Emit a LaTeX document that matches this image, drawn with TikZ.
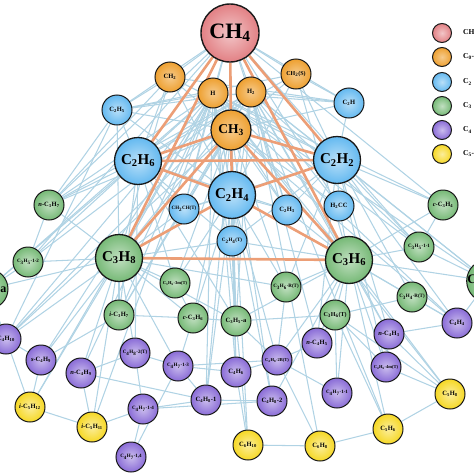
\documentclass[tikz,border=0pt]{standalone}
\usepackage{fontspec}
\setmainfont{Liberation Serif}
\usetikzlibrary{backgrounds}
\definecolor{chfour}{RGB}{226,128,132}
\definecolor{cone}{RGB}{238,160,48}
\definecolor{ctwo}{RGB}{100,185,240}
\definecolor{cthree}{RGB}{118,185,118}
\definecolor{cfour}{RGB}{138,108,215}
\definecolor{cfive}{RGB}{246,216,36}
\definecolor{fluxblue}{RGB}{176,211,228}
\definecolor{fluxorange}{RGB}{236,158,118}
\newcommand{\dn}[1]{\textsubscript{#1}}
\tikzset{
  sp/.style={circle,draw=black!90,line width=1pt,inner sep=0pt,minimum size=30pt,
    font=\bfseries\fontsize{6.5}{6.5}\selectfont},
  lng/.style={sp,font=\bfseries\fontsize{5}{5}\selectfont},
  mid/.style={sp,minimum size=40pt,line width=1.2pt,font=\bfseries\fontsize{13.5}{13.5}\selectfont},
  big/.style={sp,minimum size=47pt,line width=1.3pt,font=\bfseries\fontsize{15}{15}\selectfont},
  grp0/.style={inner color=chfour!45!white,outer color=chfour},
  grp1/.style={inner color=cone!55!white,outer color=cone},
  grp2/.style={inner color=ctwo!45!white,outer color=ctwo},
  grp3/.style={inner color=cthree!45!white,outer color=cthree},
  grp4/.style={inner color=cfour!45!white,outer color=cfour},
  grp5/.style={inner color=cfive!45!white,outer color=cfive},
  flux/.style={draw=fluxblue,line width=1.05pt},
  mainflux/.style={draw=fluxorange,line width=2.6pt},
  legdot/.style={circle,draw=black!90,line width=1pt,minimum size=19pt,inner sep=0pt},
  legtext/.style={anchor=west,inner sep=0pt,font=\bfseries\fontsize{7.5}{7.5}\selectfont}
}
\begin{document}
\begin{tikzpicture}[x=1pt,y=1pt,yscale=-1]
\useasboundingbox (0,0) rectangle (474,474);

%Species: CH4, C0-C1
\node[sp,grp0,minimum size=58pt,line width=1.4pt,font=\bfseries\fontsize{22}{22}\selectfont] (ch4) at (230,33) {CH\dn4};
\node[sp,grp1] (ch2) at (170,77) {CH\dn2};
\node[sp,grp1] (h) at (213,93) {H};
\node[sp,grp1] (h2) at (251,92) {H\dn2};
\node[lng,grp1,font=\bfseries\fontsize{6}{6}\selectfont] (ch2s) at (296,74) {CH\dn2(S)};
\node[mid,grp1] (ch3) at (231,130) {CH\dn3};

%Species: C2
\node[sp,grp2] (c2h5) at (117,110) {C\dn2H\dn5};
\node[sp,grp2] (c2h) at (349,103) {C\dn2H};
\node[big,grp2] (c2h6) at (138,161) {C\dn2H\dn6};
\node[big,grp2] (c2h2) at (337,160) {C\dn2H\dn2};
\node[big,grp2] (c2h4) at (232,195) {C\dn2H\dn4};
\node[lng,grp2] (ch2chT) at (184,209) {CH\dn2CH(T)};
\node[sp,grp2] (c2h3) at (287,210) {C\dn2H\dn3};
\node[sp,grp2] (h2cc) at (339,206) {H\dn2CC};
\node[lng,grp2] (c2h4T) at (232,241) {C\dn2H\dn4(T)};

%Species: C3
\node[sp,grp3] (nc3h7) at (49,205) {\textit{n}-C\dn3H\dn7};
\node[big,grp3] (c3h8) at (119,258) {C\dn3H\dn8};
\node[big,grp3] (c3h6) at (349,260) {C\dn3H\dn6};
\node[lng,grp3] (c3h512) at (28,262) {C\dn3H\dn5-1-2};
\node[sp,grp3,minimum size=40pt,font=\bfseries\fontsize{12}{12}\selectfont] (c3h4a) at (-12,289) {C\dn3H\dn4-a};
\node[sp,grp3,minimum size=42pt,font=\bfseries\fontsize{13}{13}\selectfont] (c3h4p) at (488,281) {C\dn3H\dn4-p};
\node[sp,grp3] (cc3h4) at (443,205) {\textit{c}-C\dn3H\dn4};
\node[lng,grp3] (c3h511) at (419,247) {C\dn3H\dn5-1-1};
\node[lng,grp3] (c3h6RT) at (286,287) {C\dn3H\dn6-R(T)};
\node[lng,grp3] (c3h4RT) at (412,297) {C\dn3H\dn4-R(T)};
\node[lng,grp3,font=\bfseries\fontsize{4.5}{4.5}\selectfont] (c3h63mT) at (175,283) {C\dn3H\dn6-3m(T)};
\node[sp,grp3] (cc3h6) at (193,318) {\textit{c}-C\dn3H\dn6};
\node[sp,grp3] (c3h5a) at (236,321) {C\dn3H\dn5-a};
\node[sp,grp3] (ic3h7) at (119,315) {\textit{i}-C\dn3H\dn7};
\node[lng,grp3,font=\bfseries\fontsize{6}{6}\selectfont] (c3h6T) at (335,315) {C\dn3H\dn6(T)};

%Species: C4
\node[sp,grp4] (c4h10) at (6,339) {C\dn4H\dn{10}};
\node[sp,grp4] (sc4h9) at (41,360) {\textit{s}-C\dn4H\dn9};
\node[sp,grp4] (nc4h9) at (81,373) {\textit{n}-C\dn4H\dn9};
\node[lng,grp4] (c4h82T) at (135,353) {C\dn4H\dn8-2(T)};
\node[lng,grp4] (c4h713) at (178,366) {C\dn4H\dn7-1-3};
\node[sp,grp4] (c4h81) at (206,400) {C\dn4H\dn8-1};
\node[lng,grp4] (c4h714) at (143,409) {C\dn4H\dn7-1-4};
\node[lng,grp4] (c4h7b) at (131,457) {C\dn4H\dn7-1,4};
\node[sp,grp4] (c4h6) at (236,372) {C\dn4H\dn6};
\node[lng,grp4,font=\bfseries\fontsize{4.5}{4.5}\selectfont] (c4h82BT) at (277,360) {C\dn4H\dn8-2B(T)};
\node[sp,grp4] (nc4h5) at (317,343) {\textit{n}-C\dn4H\dn5};
\node[sp,grp4] (c4h82) at (272,401) {C\dn4H\dn8-2};
\node[lng,grp4] (c4h711) at (337,393) {C\dn4H\dn7-1-1};
\node[sp,grp4] (nc4h3) at (389,334) {\textit{n}-C\dn4H\dn3};
\node[lng,grp4,font=\bfseries\fontsize{4.5}{4.5}\selectfont] (c4h64mT) at (386,367) {C\dn4H\dn6-4m(T)};
\node[sp,grp4] (c4h4) at (457,323) {C\dn4H\dn4};

%Species: C5-C6
\node[sp,grp5] (ic5h12) at (30,407) {\textit{i}-C\dn5H\dn{12}};
\node[sp,grp5] (ic5h11) at (92,427) {\textit{i}-C\dn5H\dn{11}};
\node[sp,grp5] (c6h10) at (248,445) {C\dn6H\dn{10}};
\node[sp,grp5] (c6h8) at (320,446) {C\dn6H\dn8};
\node[sp,grp5] (c5h6) at (388,429) {C\dn5H\dn6};
\node[sp,grp5] (c5h8) at (450,394) {C\dn5H\dn8};

%Legend
\node[legdot,grp0] (leg0) at (442,33) {};
\node[legdot,grp1] (leg1) at (442,57) {};
\node[legdot,grp2] (leg2) at (442,82) {};
\node[legdot,grp3] (leg3) at (442,106) {};
\node[legdot,grp4] (leg4) at (442,130) {};
\node[legdot,grp5] (leg5) at (442,154) {};
\node[legtext] (legt0) at (463,33) {CH\dn4};
\node[legtext] (legt1) at (463,57) {C\dn0-C\dn1};
\node[legtext] (legt2) at (463,82) {C\dn2};
\node[legtext] (legt3) at (463,106) {C\dn3};
\node[legtext] (legt4) at (463,130) {C\dn4};
\node[legtext] (legt5) at (463,154) {C\dn5-C\dn6};

%Flux lines
\begin{scope}[on background layer]
\foreach \a/\b in {ch4/ch2,ch4/h,ch4/h2,ch4/ch2s,ch4/c2h5,ch4/c2h,ch4/nc3h7,ch4/c2h4,
  ch4/c3h511,ch4/cc3h4,ch4/c3h512,ch4/c2h3,ch4/h2cc,ch4/ch2chT,
  h/c2h5,h/c2h6,h/c2h2,h/c2h,h/c2h4,h/c3h8,h/c3h6,h/nc3h7,h/ic3h7,h/c3h5a,h/cc3h4,
  h/c3h511,h/c4h10,h/sc4h9,h/nc4h9,h/c4h81,h/c4h82,h/c4h6,h/ic5h12,h/ic5h11,h/c5h8,
  h/c4h4,h/c3h4a,h/c3h4p,h/c2h3,h/ch2chT,h/c2h4T,
  h2/c2h5,h2/c2h6,h2/c2h2,h2/c2h,h2/c2h3,h2/c3h8,h2/c3h6,h2/h2cc,h2/nc3h7,h2/ic3h7,
  h2/c3h5a,h2/c3h512,h2/c3h511,h2/c4h10,h2/nc4h5,h2/nc4h3,h2/c5h6,h2/c6h8,h2/c3h4p,
  h2/c2h4,h2/ch2chT,h2/c2h4T,
  ch3/c2h5,ch3/c2h,ch3/ch2,ch3/ch2s,ch3/c2h3,ch3/h2cc,ch3/ch2chT,ch3/c2h4T,ch3/nc3h7,
  ch3/ic3h7,ch3/c3h5a,ch3/c3h63mT,ch3/c3h6RT,ch3/c4h10,ch3/c4h81,ch3/c4h6,ch3/c4h4,
  ch3/c6h10,ch3/cc3h6,ch3/c4h82,
  ch2/c2h5,ch2/c2h6,ch2/c2h4,ch2/c2h2,ch2/c3h8,ch2/nc3h7,ch2/c2h,
  ch2s/c2h,ch2s/c2h2,ch2s/c2h6,ch2s/c3h6,ch2s/c2h4,ch2s/c2h5,
  c2h6/c2h5,c2h6/nc3h7,c2h6/c3h512,c2h6/c3h4a,c2h6/ic3h7,c2h6/c2h4T,c2h6/ch2chT,
  c2h6/c3h5a,c2h6/c4h82T,c2h6/c2h3,c2h6/c3h63mT,
  c2h2/c2h,c2h2/h2cc,c2h2/c2h3,c2h2/cc3h4,c2h2/c3h511,c2h2/c3h4p,c2h2/nc4h3,c2h2/c4h4,
  c2h2/nc4h5,c2h2/c4h64mT,c2h2/c3h4RT,c2h2/ch2chT,c2h2/c2h4T,c2h2/c3h6RT,
  c2h4/c2h3,c2h4/ch2chT,c2h4/c2h4T,c2h4/c2h5,c2h4/c3h5a,c2h4/c4h81,c2h4/c4h6,
  c2h4/c3h63mT,c2h4/c3h6RT,c2h4/c4h713,c2h4/c4h82BT,
  c3h8/nc3h7,c3h8/ic3h7,c3h8/c3h512,c3h8/c3h4a,c3h8/c4h10,c3h8/sc4h9,c3h8/nc4h9,
  c3h8/ic5h12,c3h8/c3h63mT,c3h8/cc3h6,c3h8/c3h5a,c3h8/c4h82T,c3h8/c4h713,c3h8/ic5h11,
  c3h8/ch2chT,c3h8/c2h4T,c3h8/c3h6RT,
  c3h6/c3h511,c3h6/cc3h4,c3h6/c3h4p,c3h6/c3h4RT,c3h6/c3h6T,c3h6/c3h6RT,c3h6/c3h5a,
  c3h6/nc4h3,c3h6/nc4h5,c3h6/c4h64mT,c3h6/c4h4,c3h6/c5h8,c3h6/c5h6,c3h6/c4h711,
  c3h6/c4h82BT,c3h6/c4h82,c3h6/c2h3,c3h6/h2cc,c3h6/c2h4T,
  c2h5/nc3h7,c2h5/c3h8,c2h5/c4h10,nc3h7/c3h512,c3h512/c3h4a,ic3h7/cc3h6,cc3h6/c3h5a,
  c3h5a/c3h6T,cc3h4/c3h511,c3h511/c3h4p,c3h4RT/c4h4,c3h4RT/c3h6T,nc4h3/c4h4,
  c4h4/c3h4p,c4h64mT/c5h8,nc4h3/c5h8,c5h8/c5h6,c5h6/c6h8,c6h8/c6h10,c6h10/c4h6,
  c6h8/c4h82BT,c5h6/c3h6T,c4h711/c3h6T,c4h711/c4h82BT,nc4h5/c4h82BT,nc4h5/c3h6T,
  c4h82/c4h81,c4h81/c4h714,c4h81/c4h713,c4h713/c4h82T,c4h713/c4h6,c4h713/c4h82BT,
  c4h714/c4h7b,c4h714/ic5h11,ic5h11/ic5h12,ic5h11/nc4h9,ic5h12/c4h10,ic5h12/sc4h9,
  sc4h9/c4h10,nc4h9/c4h82T,nc4h9/c4h81,sc4h9/ic3h7,c4h10/c3h4a,c4h82T/c4h714,
  c4h714/c4h82,c4h6/c4h82BT,c4h7b/c4h713,c3h6T/c4h64mT,c3h6T/c5h8,c4h64mT/nc4h3,
  c2h4T/c3h5a,c2h4T/c4h6,c3h6RT/c4h82BT,c3h63mT/cc3h6,c3h5a/c4h82BT,c3h5a/c6h10}
  \draw[flux] (\a) -- (\b);
\foreach \a/\b in {ch4/ch3,ch4/c2h6,ch4/c2h2,ch4/c3h8,ch4/c3h6,
  ch3/c2h6,ch3/c2h2,ch3/c2h4,ch3/c3h8,ch3/c3h6,
  c2h6/c2h2,c2h6/c2h4,c2h2/c2h4,c2h4/c3h8,c2h4/c3h6,c3h8/c3h6}
  \draw[mainflux] (\a) -- (\b);
\end{scope}
\end{tikzpicture}
\end{document}
